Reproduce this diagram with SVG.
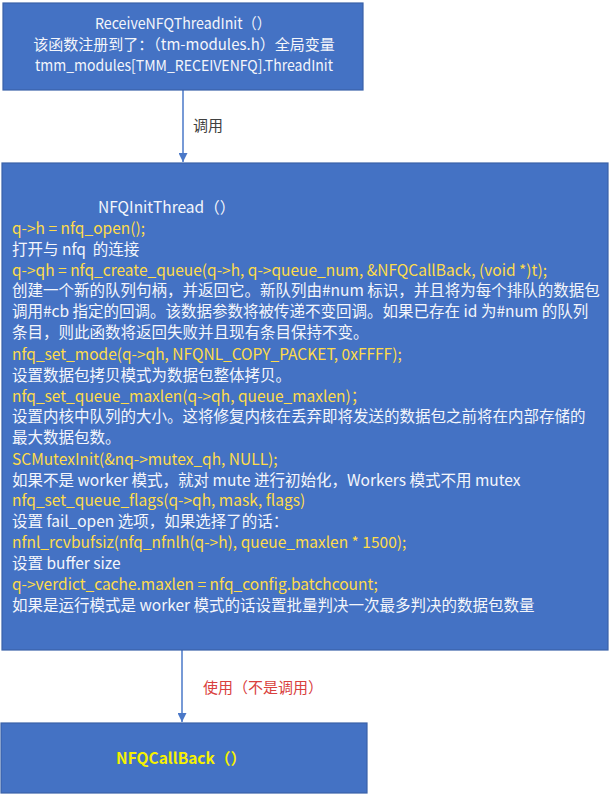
<svg xmlns="http://www.w3.org/2000/svg" width="612" height="796" viewBox="0 0 612 796">
<style>
.box{fill:#4472C4;stroke:#3A62A8;stroke-width:1.2}
.t{font-family:"Noto Sans CJK SC","Liberation Sans",sans-serif;font-size:15.5px;fill:#F4F6FB;white-space:pre}
.c{fill:#FFDC4A}
.mid{text-anchor:middle}
.conn{stroke:#4A78C8;stroke-width:1.5;fill:none}
.lbl{font-family:"Noto Sans CJK SC","Liberation Sans",sans-serif;font-size:15px}
</style>
<defs>
<marker id="ah" viewBox="0 0 10 10" refX="10" refY="5" markerWidth="6" markerHeight="6" orient="auto" markerUnits="strokeWidth">
<path d="M0,0 L10,5 L0,10 z" fill="#4A78C8"/>
</marker>
</defs>
<rect width="612" height="796" fill="#FFFFFF"/>
<g id="connectors">
<line class="conn" x1="183" y1="90" x2="183" y2="162" marker-end="url(#ah)"/>
<text class="lbl" x="193" y="131" fill="#404040">调用</text>
<line class="conn" x1="182" y1="650" x2="182" y2="722" marker-end="url(#ah)"/>
<text class="lbl" x="203" y="693" fill="#D9413E">使用（不是调用）</text>
</g>
<g id="receive">
<rect class="box" x="3" y="3" width="360" height="87"/>
<text class="t mid" x="183" y="29" style="font-size:15px" textLength="176" lengthAdjust="spacingAndGlyphs">ReceiveNFQThreadInit（）</text>
<text class="t mid" x="184" y="50" style="font-size:15px">该函数注册到了：（tm-modules.h）全局变量</text>
<text class="t mid" x="184" y="71" style="font-size:15px" textLength="298" lengthAdjust="spacingAndGlyphs">tmm_modules[TMM_RECEIVENFQ].ThreadInit</text>
</g>
<g id="nfqinit">
<rect class="box" x="2" y="163" width="606" height="487"/>
<text class="t" x="98" y="213">NFQInitThread（）</text>
<text class="t c" x="12" y="234">q-&gt;h = nfq_open();</text>
<text class="t" x="12" y="255">打开与 nfq  的连接</text>
<text class="t c" x="12" y="276">q-&gt;qh = nfq_create_queue(q-&gt;h, q-&gt;queue_num, &amp;NFQCallBack, (void *)t);</text>
<text class="t" x="12" y="296">创建一个新的队列句柄，并返回它。新队列由#num 标识，并且将为每个排队的数据包</text>
<text class="t" x="12" y="317">调用#cb 指定的回调。该数据参数将被传递不变回调。如果已存在 id 为#num 的队列</text>
<text class="t" x="12" y="338">条目，则此函数将返回失败并且现有条目保持不变。</text>
<text class="t c" x="12" y="360">nfq_set_mode(q-&gt;qh, NFQNL_COPY_PACKET, 0xFFFF);</text>
<text class="t" x="12" y="381">设置数据包拷贝模式为数据包整体拷贝。</text>
<text class="t c" x="12" y="402">nfq_set_queue_maxlen(q-&gt;qh, queue_maxlen)；</text>
<text class="t" x="12" y="422">设置内核中队列的大小。这将修复内核在丢弃即将发送的数据包之前将在内部存储的</text>
<text class="t" x="12" y="443">最大数据包数。</text>
<text class="t c" x="12" y="465">SCMutexInit(&amp;nq-&gt;mutex_qh, NULL);</text>
<text class="t" x="12" y="486">如果不是 worker 模式，就对 mute 进行初始化，Workers 模式不用 mutex</text>
<text class="t c" x="12" y="506">nfq_set_queue_flags(q-&gt;qh, mask, flags)</text>
<text class="t" x="12" y="527">设置 fail_open 选项，如果选择了的话：</text>
<text class="t c" x="12" y="548">nfnl_rcvbufsiz(nfq_nfnlh(q-&gt;h), queue_maxlen * 1500);</text>
<text class="t" x="12" y="569">设置 buffer size</text>
<text class="t c" x="12" y="590">q-&gt;verdict_cache.maxlen = nfq_config.batchcount;</text>
<text class="t" x="12" y="611">如果是运行模式是 worker 模式的话设置批量判决一次最多判决的数据包数量</text>
</g>
<g id="callback">
<rect class="box" x="1" y="723" width="366" height="70"/>
<text class="t mid" x="181" y="764" style="fill:#F5F000;font-weight:bold">NFQCallBack（）</text>
</g>
</svg>
